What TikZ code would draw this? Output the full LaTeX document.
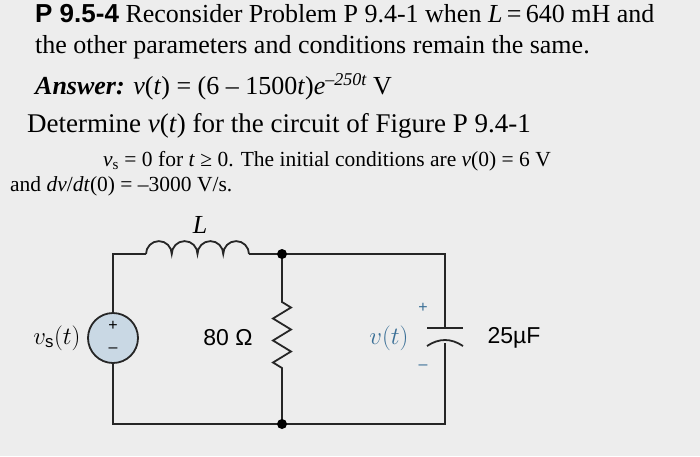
\documentclass[tikz,border=0pt]{standalone}
\usepackage{amsmath}
\usepackage{fontspec}
\setmainfont{Liberation Serif}
\setsansfont{Liberation Sans}
\usetikzlibrary{decorations.pathmorphing}
\definecolor{bg}{HTML}{EDEDED}
\definecolor{srcfill}{HTML}{C9D8E4}
\definecolor{lbl}{HTML}{3A6F96}
\newcommand{\iv}{\textit{v}}
\newcommand{\itt}{\textit{t}}
\begin{document}
\begin{tikzpicture}[x=1pt,y=-1pt,
  wire/.style={line width=1.8pt,black!85},
  txt/.style={anchor=base west,inner sep=0pt}]
\fill[bg] (0,0) rectangle (700,456);
\useasboundingbox (0,0) rectangle (700,456);
\node[txt] (t1) at (35,22) {\fontsize{26}{30}\selectfont\textbf{\sffamily P 9.5-4} Reconsider Problem P 9.4-1 when \textit{L}\,=\,640 mH and};
\node[txt] (t2) at (35,53) {\fontsize{26}{30}\selectfont the other parameters and conditions remain the same.};
\node[txt] (t3) at (35,94) {\fontsize{26}{30}\selectfont\textbf{\textit{Answer:}} \iv(\itt) = (6 -- 1500\itt)\textit{e}\raisebox{9pt}{\fontsize{18}{18}\selectfont\textit{--250t}} V};
\node[txt] (t4) at (27,132) {\fontsize{27}{30}\selectfont Determine \iv(\itt) for the circuit of Figure P 9.4-1};
\node[txt] (t5) at (103,166) {\fontsize{21.5}{24}\selectfont \iv\textsubscript{s} = 0 for \itt\ ≥ 0. The initial conditions are \iv(0) = 6 V};
\node[txt] (t6) at (10,191) {\fontsize{21.5}{24}\selectfont and \textit{dv}/\textit{dt}(0) = --3000 V/s.};
% circuit
\coordinate (tl) at (113,254);
\coordinate (bl) at (113,424);
\coordinate (lA) at (146,254);
\coordinate (lB) at (249,254);
\coordinate (jt) at (282,254);
\coordinate (jb) at (282,424);
\coordinate (tr) at (445,254);
\coordinate (br) at (445,424);
\coordinate (rA) at (282,300);
\coordinate (rB) at (282,376);
\coordinate (cA) at (445,328);
\coordinate (cB) at (445,343);
\node[circle,draw=black!85,line width=1.8pt,fill=srcfill,minimum size=50pt,inner sep=0pt] (src) at (113,338) {};
\node at (113,326) {\sffamily\fontsize{16}{16}\selectfont +};
\node at (113,350) {\sffamily\fontsize{16}{16}\selectfont --};
\draw[wire] (src.north) -- (tl) -- (lA);
\draw[wire] (lA) \foreach \i in {0,...,3} { arc[start angle=180,end angle=360,radius=12.875] };
\draw[wire] (lB) -- (jt) -- (tr) -- (cA);
\draw[wire] (src.south) -- (bl) -- (jb) -- (br) -- (cB);
\draw[wire] (jt) -- (rA);
\draw[wire,decoration={zigzag,segment length=22pt,amplitude=9pt,pre length=2pt,post length=2pt},decorate] (rA) -- (rB);
\draw[wire] (rB) -- (jb);
\draw[wire] (427,328) -- (463,328);
\draw[wire] (427,346) .. controls (439,338) and (451,338) .. (463,346);
\fill (jt) circle (5pt);
\fill (jb) circle (5pt);
\node (L) at (200,225) {\fontsize{26}{30}\selectfont \textit{L}};
\node[anchor=east] (vs) at (84,338) {\fontsize{24}{28}\selectfont $v_{\mathsf s}(t)$};
\node[anchor=east] (R) at (256,338) {\sffamily\fontsize{23}{26}\selectfont 80 Ω};
\node[anchor=east,text=lbl] (vt) at (412,338) {\fontsize{24}{28}\selectfont $v(t)$};
\node[text=lbl] at (423,308) {\sffamily\fontsize{16}{16}\selectfont +};
\node[text=lbl] at (423,367) {\sffamily\fontsize{16}{16}\selectfont --};
\node[anchor=west] (C) at (484,338) {\sffamily\fontsize{23}{26}\selectfont 25µF};
\end{tikzpicture}
\end{document}
